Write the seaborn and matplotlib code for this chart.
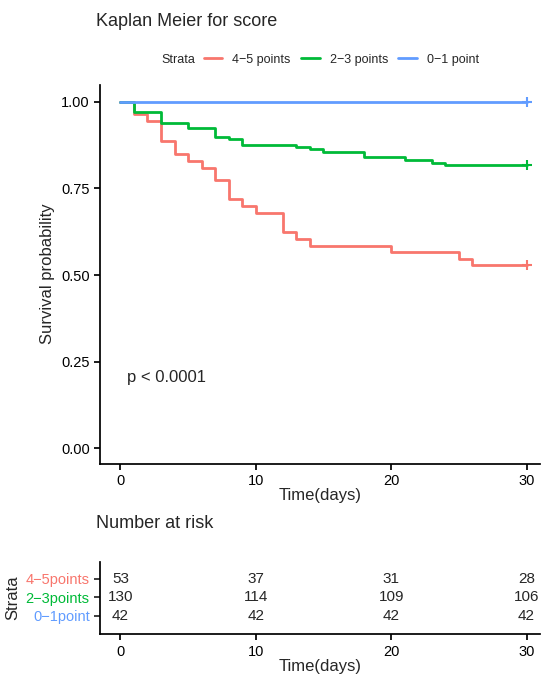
import matplotlib
matplotlib.use("Agg")
import matplotlib.pyplot as plt
import seaborn as sns
import pandas as pd

sns.set_theme(style="white")
plt.rcParams['font.family'] = ['Liberation Sans', 'DejaVu Sans']

strata = ["4\u22125 points", "2\u22123 points", "0\u22121 point"]
colors = ["#F8766D", "#00BA38", "#619CFF"]
t_red = [0, 1, 2, 3, 4, 5, 6, 7, 8, 9, 10, 12, 13, 14, 20, 25, 26, 30]
s_red = [1.0, 0.965, 0.945, 0.887, 0.85, 0.83, 0.81, 0.774, 0.72, 0.70, 0.68, 0.624, 0.604, 0.585, 0.566, 0.547, 0.528, 0.528]
t_green = [0, 1, 3, 5, 7, 8, 9, 13, 14, 15, 18, 21, 23, 24, 30]
s_green = [1.0, 0.971, 0.939, 0.925, 0.90, 0.894, 0.877, 0.87, 0.864, 0.855, 0.84, 0.832, 0.825, 0.818, 0.818]
t_blue = [0, 30]
s_blue = [1.0, 1.0]
risk_times = [0, 10, 20, 30]
risk_labels = ["4\u22125points", "2\u22123points", "0\u22121point"]
risk_red = [53, 37, 31, 28]
risk_green = [130, 114, 109, 106]
risk_blue = [42, 42, 42, 42]

fig = plt.figure(figsize=(5.5, 6.77), dpi=100)
ax = fig.add_axes([0.182, 0.315, 0.8, 0.56])
series = [(t_red, s_red), (t_green, s_green), (t_blue, s_blue)]
for (t, s), name, c in zip(series, strata, colors):
    df = pd.DataFrame({"t": t, "s": s})
    sns.lineplot(data=df, x="t", y="s", drawstyle="steps-post", color=c, lw=2, ax=ax, label=name)
    ax.plot([t[-1]], [s[-1]], marker="+", color=c, ms=7, mew=1.5)
ax.set_xlim(-1.5, 31)
ax.set_ylim(-0.045, 1.05)
ax.set_xticks([0, 10, 20, 30])
ax.set_yticks([0, 0.25, 0.5, 0.75, 1.0])
ax.set_yticklabels(["0.00", "0.25", "0.50", "0.75", "1.00"])
ax.tick_params(axis="both", labelsize=10.5, colors="black", length=4, left=True, bottom=True)
for sp in ["top", "right"]:
    ax.spines[sp].set_visible(False)
for sp in ["left", "bottom"]:
    ax.spines[sp].set_color("black")
ax.set_xlabel("Time(days)", fontsize=12, labelpad=0)
ax.set_ylabel("Survival probability", fontsize=12)
ax.text(0.5, 0.19, "p < 0.0001", fontsize=12)
leg = ax.legend(loc="lower center", bbox_to_anchor=(0.5, 1.02), ncol=3, frameon=False,
                fontsize=9, title="Strata", title_fontsize=9, handlelength=1.5, columnspacing=0.8)
from matplotlib.offsetbox import HPacker
lb = leg._legend_box
lb._children = [HPacker(children=[lb._children[0], lb._children[1]], align="center", pad=0, sep=6)]
fig.text(0.175, 0.968, "Kaplan Meier for score", fontsize=13, va="center")

ax2 = fig.add_axes([0.182, 0.063, 0.8, 0.107])
risks = [risk_red, risk_green, risk_blue]
ys = [2, 1, 0]
for r, y in zip(risks, ys):
    for t, v in zip(risk_times, r):
        ax2.text(t, y, str(v), ha="center", va="center", fontsize=11)
ax2.set_xlim(-1.5, 31)
ax2.set_ylim(-1.0, 2.9)
ax2.set_xticks([0, 10, 20, 30])
ax2.set_yticks(ys)
ax2.set_yticklabels(risk_labels)
for lbl, c in zip(ax2.get_yticklabels(), colors):
    lbl.set_color(c)
ax2.tick_params(axis="both", labelsize=10.5, length=4, left=True, bottom=True)
ax2.tick_params(axis="x", colors="black")
for sp in ["top", "right"]:
    ax2.spines[sp].set_visible(False)
for sp in ["left", "bottom"]:
    ax2.spines[sp].set_color("black")
ax2.set_xlabel("Time(days)", fontsize=12, labelpad=0)
ax2.set_ylabel("Strata", fontsize=12)
fig.text(0.175, 0.227, "Number at risk", fontsize=13, va="center")
fig.savefig("out.png", dpi=100)
